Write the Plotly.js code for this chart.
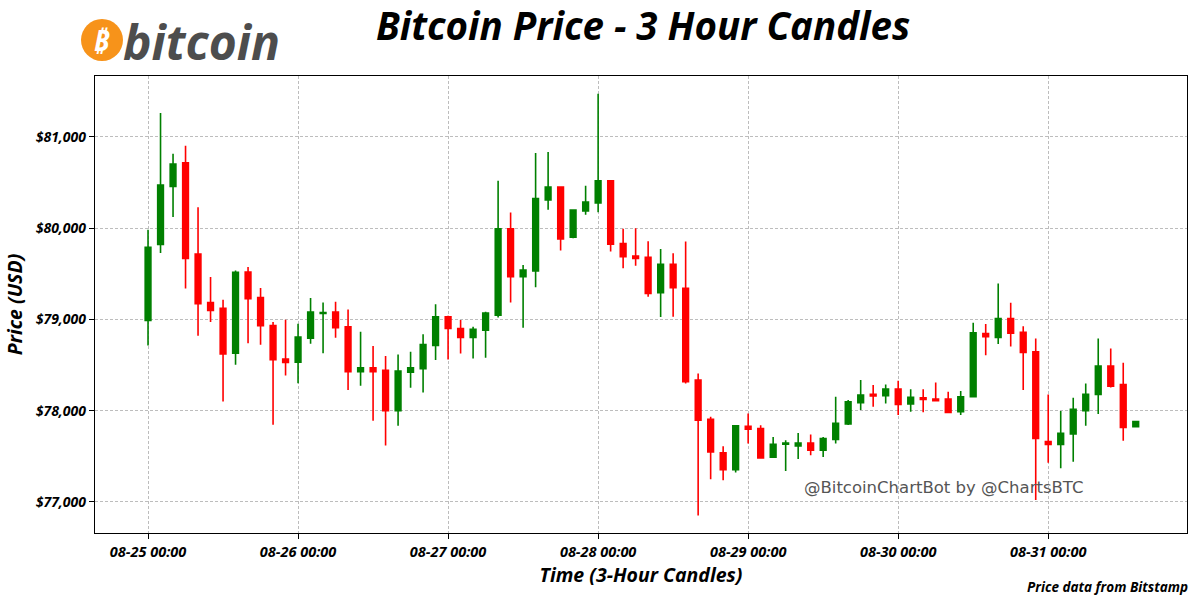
<!DOCTYPE html>
<html>
<head>
<meta charset="utf-8">
<script src="https://cdn.plot.ly/plotly-3.0.1.min.js"></script>
<style>
html,body{margin:0;padding:0;background:#fff;}
#chart{width:1199px;height:604px;}
</style>
</head>
<body>
<div id="chart"></div>
<script>
// 2-hour spaced candle timestamps (as drawn: 12 candles per day)
const times = [
"2025-08-25 00:00","2025-08-25 02:00","2025-08-25 04:00","2025-08-25 06:00","2025-08-25 08:00","2025-08-25 10:00",
"2025-08-25 12:00","2025-08-25 14:00","2025-08-25 16:00","2025-08-25 18:00","2025-08-25 20:00","2025-08-25 22:00",
"2025-08-26 00:00","2025-08-26 02:00","2025-08-26 04:00","2025-08-26 06:00","2025-08-26 08:00","2025-08-26 10:00",
"2025-08-26 12:00","2025-08-26 14:00","2025-08-26 16:00","2025-08-26 18:00","2025-08-26 20:00","2025-08-26 22:00",
"2025-08-27 00:00","2025-08-27 02:00","2025-08-27 04:00","2025-08-27 06:00","2025-08-27 08:00","2025-08-27 10:00",
"2025-08-27 12:00","2025-08-27 14:00","2025-08-27 16:00","2025-08-27 18:00","2025-08-27 20:00","2025-08-27 22:00",
"2025-08-28 00:00","2025-08-28 02:00","2025-08-28 04:00","2025-08-28 06:00","2025-08-28 08:00","2025-08-28 10:00",
"2025-08-28 12:00","2025-08-28 14:00","2025-08-28 16:00","2025-08-28 18:00","2025-08-28 20:00","2025-08-28 22:00",
"2025-08-29 00:00","2025-08-29 02:00","2025-08-29 04:00","2025-08-29 06:00","2025-08-29 08:00","2025-08-29 10:00",
"2025-08-29 12:00","2025-08-29 14:00","2025-08-29 16:00","2025-08-29 18:00","2025-08-29 20:00","2025-08-29 22:00",
"2025-08-30 00:00","2025-08-30 02:00","2025-08-30 04:00","2025-08-30 06:00","2025-08-30 08:00","2025-08-30 10:00",
"2025-08-30 12:00","2025-08-30 14:00","2025-08-30 16:00","2025-08-30 18:00","2025-08-30 20:00","2025-08-30 22:00",
"2025-08-31 00:00","2025-08-31 02:00","2025-08-31 04:00","2025-08-31 06:00","2025-08-31 08:00","2025-08-31 10:00",
"2025-08-31 12:00","2025-08-31 14:00"
];

const opens = [
78989,79823,80459,80718,79717,79186,79121,78631,79519,79241,78934,78565,
78532,78795,79066,79080,78920,78427,78471,78442,78000,78423,78460,78715,
79029,78901,78803,78883,79048,79993,79469,79531,80311,80451,79901,80190,
80278,80520,79832,79696,79681,79293,79604,79341,78335,77907,77538,77355,
77830,77805,77490,77633,77614,77647,77567,77686,77854,78088,78179,78164,
78237,78073,78142,78128,78128,77989,78153,78847,78803,79011,78858,78646,
77661,77631,77745,78000,78179,78489,78288,77825
];
const highs = [
79984,81263,80817,80905,80229,79464,79216,79537,79574,79344,78971,78996,
78952,79234,79186,79193,79109,78865,78708,78599,78617,78646,78839,79168,
79040,78993,78920,79084,80520,80172,79597,80824,80835,80460,80205,80465,
81473,80525,79993,80000,79857,79773,79725,79854,78408,77933,77611,77840,
77969,77841,77713,77677,77757,77739,77713,78153,78117,78336,78281,78288,
78328,78234,78234,78310,78208,78215,78964,78949,79394,79182,78927,78792,
78179,77996,78142,78299,78792,78682,78526,77887
];
const lows = [
78715,79728,80123,79340,78821,78971,78101,78503,78740,78722,77845,78386,
78302,78733,78631,78799,78226,78274,77891,77620,77836,78252,78201,78555,
78562,78628,78573,78580,79022,79187,78908,79352,80201,79755,79890,80147,
80176,79744,79560,79590,79249,79026,79029,78299,76853,77248,77237,77322,
77640,77475,77486,77340,77472,77512,77494,77642,77843,78007,78044,78080,
77953,77989,77982,78105,77971,77953,78146,78609,78730,78705,78226,77022,
77431,77369,77442,77836,77964,78255,77672,77818
];
const closes = [
79790,80473,80704,79669,79172,79099,78623,79516,79227,78931,78558,78528,
78806,79080,79077,78909,78427,78471,78427,78000,78434,78471,78726,79029,
78901,78803,78891,79070,79993,79469,79542,80326,80451,79883,80198,80286,
80520,79824,79689,79670,79286,79604,79348,78317,77896,77549,77355,77834,
77797,77483,77633,77647,77647,77567,77695,77861,78099,78172,78161,78237,
78069,78146,78124,78109,77982,78153,78854,78810,79011,78850,78639,77697,
77631,77752,78015,78179,78489,78270,77818,77880
];

const PL = 95, PR = 1187, PT = 76, PB = 533;
const PW = PR - PL, PH = PB - PT;
const px = v => (v - PL) / PW;
const py = v => (PB - v) / PH;

const FONT = "Open Sans, Noto Sans, sans-serif";

const trace = {
  type: 'candlestick',
  x: times, open: opens, high: highs, low: lows, close: closes,
  increasing: {line: {color: '#008000', width: 1.6}, fillcolor: '#008000'},
  decreasing: {line: {color: '#ff0000', width: 1.6}, fillcolor: '#ff0000'},
  whiskerwidth: 0,
  hoverinfo: 'x+y'
};

const layout = {
  width: 1199, height: 604,
  margin: {l: PL, r: 1199 - PR, t: PT, b: 604 - PB},
  paper_bgcolor: '#ffffff', plot_bgcolor: '#ffffff',
  showlegend: false,
  boxgap: 0.35,
  title: {
    text: 'Bitcoin Price - 3 Hour Candles',
    font: {family: FONT, size: 38.5, color: '#000', weight: 'bold', style: 'italic'},
    x: 643 / 1199, xanchor: 'center', xref: 'container',
    y: 1 - 27 / 604, yanchor: 'middle', yref: 'container'
  },
  xaxis: {
    type: 'date',
    range: ['2025-08-24 15:31', '2025-08-31 22:12'],
    rangeslider: {visible: false},
    tick0: '2025-08-25 00:00', dtick: 86400000,
    tickformat: '%m-%d %H:%M',
    ticks: 'outside', ticklen: 5, tickcolor: '#000', tickwidth: 1,
    tickfont: {family: FONT, size: 14.5, color: '#000', weight: 'bold', style: 'italic'},
    showline: true, mirror: true, linecolor: '#000', linewidth: 1.2,
    showgrid: true, gridcolor: '#bdbdbd', gridwidth: 1, griddash: '3px,2px',
    zeroline: false,
    title: {text: 'Time (3-Hour Candles)', standoff: 6,
      font: {family: FONT, size: 19.5, color: '#000', weight: 'bold', style: 'italic'}}
  },
  yaxis: {
    range: [76660, 81668],
    tick0: 77000, dtick: 1000,
    tickprefix: '$', tickformat: ',.0f',
    ticks: 'outside', ticklen: 5, tickcolor: '#000', tickwidth: 1,
    tickfont: {family: FONT, size: 14, color: '#000', weight: 'bold', style: 'italic'},
    showline: true, mirror: true, linecolor: '#000', linewidth: 1.2,
    showgrid: true, gridcolor: '#bdbdbd', gridwidth: 1, griddash: '3px,2px',
    zeroline: false,
    title: {text: 'Price (USD)', standoff: 8,
      font: {family: FONT, size: 19.5, color: '#000', weight: 'bold', style: 'italic'}}
  },
  shapes: [
    {type: 'circle', xref: 'paper', yref: 'paper',
     x0: px(81), x1: px(123), y0: py(61), y1: py(19),
     fillcolor: '#f7931a', line: {width: 0}, layer: 'above'}
  ],
  annotations: [
    {xref: 'paper', yref: 'paper', x: px(102), y: py(40), xanchor: 'center', yanchor: 'middle',
     text: '₿', showarrow: false,
     font: {family: 'Noto Sans, DejaVu Sans, sans-serif', size: 28, color: '#ffffff', weight: 'bold', style: 'italic'}},
    {xref: 'paper', yref: 'paper', x: px(121), y: py(41), xanchor: 'left', yanchor: 'middle',
     text: 'bitcoin', showarrow: false,
     font: {family: FONT, size: 48, color: '#4d4d4d', weight: 'bold', style: 'italic'}},
    {xref: 'paper', yref: 'paper', x: px(943), y: py(487), xanchor: 'center', yanchor: 'middle',
     text: '@BitcoinChartBot by @ChartsBTC', showarrow: false,
     font: {family: 'DejaVu Sans, sans-serif', size: 16.5, color: '#555555'}},
    {xref: 'paper', yref: 'paper', x: px(1190), y: py(587), xanchor: 'right', yanchor: 'middle',
     text: 'Price data from Bitstamp', showarrow: false,
     font: {family: FONT, size: 13.5, color: '#000', weight: 'bold', style: 'italic'}}
  ]
};

Plotly.newPlot('chart', [trace], layout, {displayModeBar: false, staticPlot: true});
</script>
</body>
</html>
